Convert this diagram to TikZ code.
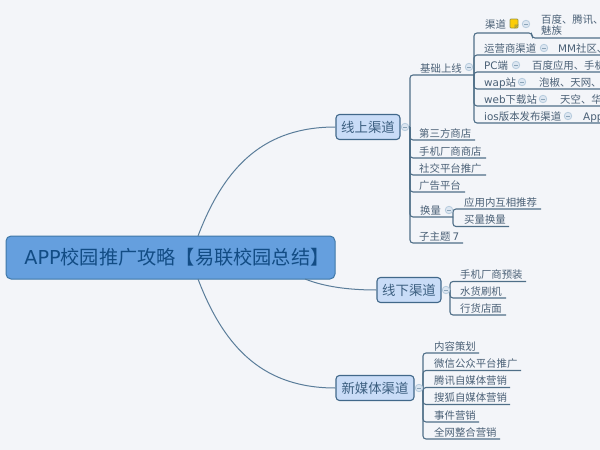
\documentclass[tikz,border=0pt]{standalone}
\usepackage{fontspec}
\setmainfont{Noto Sans CJK SC}
\newfontfamily\lat{DejaVu Sans}
\definecolor{bgc}{HTML}{F3F5F9}
\definecolor{linec}{HTML}{4F6F88}
\definecolor{curvec}{HTML}{5A7D9A}
\definecolor{txtc}{HTML}{4A6076}
\definecolor{rootfill}{HTML}{659FDE}
\definecolor{rootline}{HTML}{3F78A8}
\definecolor{rootTxt}{HTML}{124C84}
\definecolor{midfill}{HTML}{C9DCF7}
\definecolor{midline}{HTML}{41688A}
\definecolor{midTxt}{HTML}{3C5F80}
\definecolor{hubfill}{HTML}{DCE6F1}
\definecolor{hubline}{HTML}{B7CCDE}
\tikzset{
  rootbox/.style={draw=rootline,fill=rootfill,line width=1pt,rounded corners=5pt,text=rootTxt,inner sep=0pt,font=\fontsize{19.2}{22}\selectfont},
  midbox/.style={draw=midline,fill=midfill,line width=1.1pt,rounded corners=3.5pt,text=midTxt,inner sep=0pt,font=\fontsize{13.4}{15}\selectfont},
  leaflabel/.style={anchor=base west,inner sep=0pt,text=txtc,font=\fontsize{10.4}{12}\selectfont},
  conn/.style={draw=linec,line width=1.1pt,rounded corners=3pt},
  curveconn/.style={draw=curvec,line width=1pt},
  hub/.style={circle,draw=hubline,line width=.8pt,fill=hubfill,minimum size=7.5pt,inner sep=0pt,
    path picture={\draw[curvec!70,line width=.7pt] (path picture bounding box.west)++(2pt,0) -- ++(3.5pt,0);}},
  notebox/.style={draw=black!45!yellow,fill=yellow!65!orange,line width=.7pt,minimum width=8pt,minimum height=9pt,inner sep=0pt,rounded corners=.8pt}
}
% name, text x, line end x, underline y, text
\newcommand\leafitem[5]{%
  \coordinate (#1-end) at (#3,#4);
  \node[leaflabel] (#1) at (#2,#4-3) {#5};
}
\begin{document}
\begin{tikzpicture}[x=1pt,y=-1pt]
\useasboundingbox (0,0) rectangle (600,450);
\fill[bgc] (0,0) rectangle (600,450);
\clip (0,0) rectangle (600,450);

% main boxes
\node[rootbox,minimum width=329pt,minimum height=43pt] (root) at (170.5,257.5) {\hspace*{13pt}{\lat APP}校园推广攻略【易联校园总结】};
\node[midbox,minimum width=64pt,minimum height=25pt] (on) at (368,127) {线上渠道};
\node[midbox,minimum width=64pt,minimum height=25pt] (off) at (409,290) {线下渠道};
\node[midbox,minimum width=78pt,minimum height=25pt] (media) at (375,388) {新媒体渠道};

% curves from the root
\coordinate (rt) at (198,236);
\coordinate (rb) at (198,279);
\coordinate (rr) at (305,279);
\draw[curveconn] (rt) .. controls (225,165) and (265,127) .. (on.west);
\draw[curveconn] (rb) .. controls (225,350) and (265,388) .. (media.west);
\draw[curveconn] (rr) .. controls (325,287) and (350,290) .. (off.west);

% online leaves
\leafitem{base}{420}{474}{75}{基础上线}
\leafitem{third}{419}{475}{140}{第三方商店}
\leafitem{vendor}{419}{486}{158}{手机厂商商店}
\leafitem{social}{419}{486}{175}{社交平台推广}
\leafitem{ads}{419}{465}{192}{广告平台}
\leafitem{swap}{420}{453}{217}{换量}
\leafitem{sub}{419}{463}{243}{子主题 {\lat 7}}
\coordinate (von) at (410,127);
\draw[conn] (on.east) -- (von);
\foreach \n in {base,third,vendor,social,ads,swap,sub}{\draw[conn] (von) |- (\n-end);}

% swap leaves
\leafitem{rec}{464}{541}{209}{应用内互相推荐}
\leafitem{buy}{464}{509}{226.5}{买量换量}
\coordinate (vswap) at (453,217);
\draw[conn] (vswap) |- (rec-end);
\draw[conn] (vswap) |- (buy-end);

% base leaves
\coordinate (vbase) at (474,75);
\node[leaflabel] (ch) at (485,28) {渠道};
\node[notebox] (note) at (514,23.5) {};
\draw[black!45!yellow,line width=.6pt] (515,28) -- (518,25) -- (515,25) -- cycle;
\node[leaflabel] (chA) at (541,23) {百度、腾讯、};
\node[leaflabel] (chB) at (541,34.5) {魅族};
\coordinate (chend) at (600,38);
\coordinate (chstep) at (532,33);
\draw[conn] (vbase) |- (chstep) -- (532,38) -- (chend);

\leafitem{op}{484}{600}{55}{运营商渠道}
\node[leaflabel] (opA) at (558,52) {{\lat MM}社区、};
\leafitem{pc}{484}{600}{72}{{\lat PC}端}
\node[leaflabel] (pcA) at (532,69) {百度应用、手机};
\leafitem{wap}{484}{600}{89}{{\lat wap}站}
\node[leaflabel] (wapA) at (539,86) {泡椒、天网、};
\leafitem{web}{484}{600}{106}{{\lat web}下载站}
\node[leaflabel] (webA) at (560,103) {天空、华};
\leafitem{ios}{484}{600}{123}{{\lat ios}版本发布渠道}
\node[leaflabel] (iosA) at (583,120) {{\lat App}};
\foreach \n in {op,pc,wap,web,ios}{\draw[conn] (vbase) |- (\n-end);}

% offline leaves
\leafitem{pre}{460}{526}{281.5}{手机厂商预装}
\leafitem{flash}{460}{506}{298}{水货刷机}
\leafitem{store}{460}{506}{315}{行货店面}
\coordinate (voff) at (450,290);
\draw[conn] (off.east) -- (voff);
\foreach \n in {pre,flash,store}{\draw[conn] (voff) |- (\n-end);}

% media leaves
\leafitem{plan}{434}{479}{353}{内容策划}
\leafitem{wx}{434}{521}{370.5}{微信公众平台推广}
\leafitem{tx}{434}{510}{387.5}{腾讯自媒体营销}
\leafitem{sh}{434}{510}{404.5}{搜狐自媒体营销}
\leafitem{ev}{434}{479}{422}{事件营销}
\leafitem{all}{434}{500}{439}{全网整合营销}
\coordinate (vmedia) at (423,388);
\draw[conn] (media.east) -- (vmedia);
\foreach \n in {plan,wx,tx,sh,ev,all}{\draw[conn] (vmedia) |- (\n-end);}

% hubs
\node[hub] (hon) at (405,127) {};
\node[hub] (hoff) at (446,290) {};
\node[hub] (hmedia) at (419,388) {};
\node[hub] (hbase) at (469,67) {};
\node[hub] (hswap) at (449,210) {};
\node[hub] (hch) at (526,24) {};
\node[hub] (hop) at (544,48) {};
\node[hub] (hpc) at (516,65) {};
\node[hub] (hwap) at (522,82) {};
\node[hub] (hweb) at (543,99) {};
\node[hub] (hios) at (568,116) {};
\end{tikzpicture}
\end{document}
